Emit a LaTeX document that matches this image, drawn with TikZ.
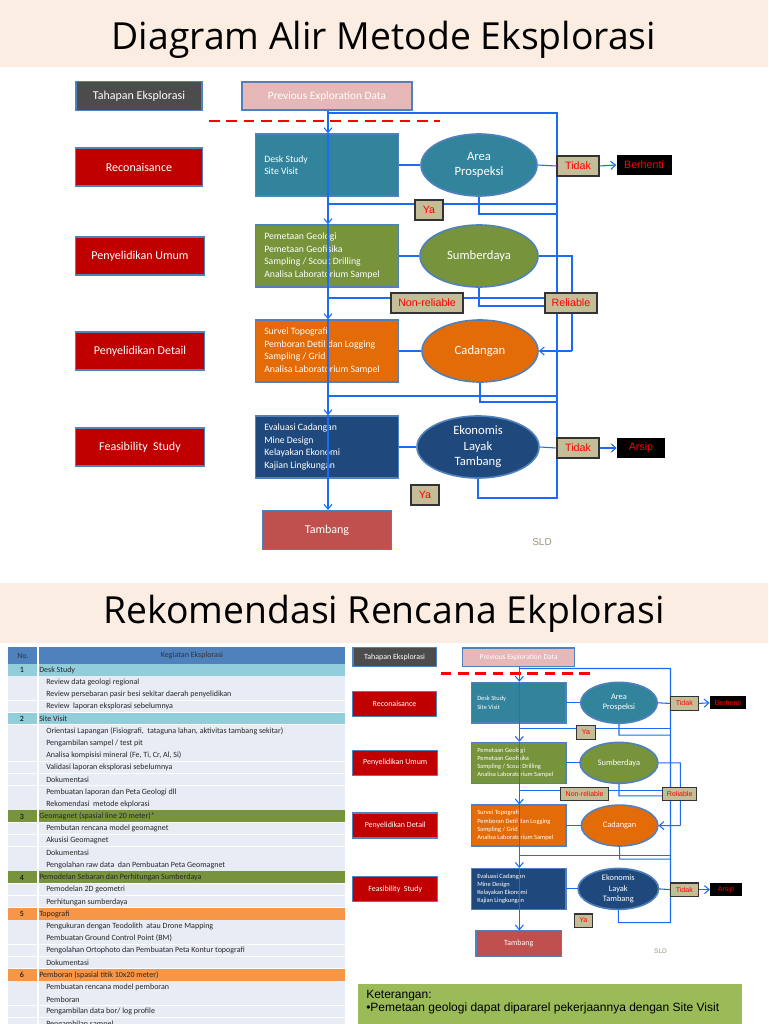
\documentclass[tikz,border=0pt]{standalone}
\usepackage{fontspec}
\setmainfont{Carlito}
\newfontfamily\titlefont{Open Sans}
\newfontfamily\arialf{Liberation Sans}
\usetikzlibrary{arrows.meta,shapes.geometric}
\definecolor{peach}{HTML}{FCEDE3}
\definecolor{teal}{HTML}{31849B}
\definecolor{olive}{HTML}{77933C}
\definecolor{orng}{HTML}{E36C09}
\definecolor{navy}{HTML}{1F497D}
\definecolor{redbox}{HTML}{C00000}
\definecolor{bord}{HTML}{4F81BD}
\definecolor{tan}{HTML}{C4BD97}
\definecolor{pinkb}{HTML}{E6B8B7}
\definecolor{tamb}{HTML}{C0504D}
\definecolor{lnblue}{HTML}{1A6CF5}
\definecolor{hdr}{HTML}{4F81BD}
\definecolor{cyanr}{HTML}{92CDDC}
\definecolor{greenr}{HTML}{77933C}
\definecolor{orr}{HTML}{F79646}
\definecolor{subr}{HTML}{E8ECF4}
\definecolor{ketg}{HTML}{9BBB59}
\tikzset{
 bx/.style 2 args={draw=bord,line width=0.9pt,minimum width=#1*0.75pt,minimum height=#2*0.75pt,inner sep=0pt,text=white},
 stage/.style={bx={127}{38},fill=redbox,font=\fontsize{9}{10}\selectfont},
 work/.style={bx={143}{62},line width=1.2pt},
 btxt/.style={anchor=west,align=left,text=white,font=\fontsize{7.3}{9.4}\selectfont,inner sep=0pt},
 ell/.style={ellipse,draw=bord,line width=1.2pt,minimum width=#1*0.75pt,minimum height=62*0.75pt,inner sep=0pt,text=white,align=center,font=\fontsize{9.5}{11.5}\selectfont},
 tag/.style={draw=black!80,line width=0.8pt,fill=tan,text=red,font=\arialf\fontsize{8}{9}\selectfont,inner sep=0pt,minimum height=20*0.75pt},
 blk/.style={fill=black,text=red,font=\arialf\fontsize{8}{9}\selectfont,inner sep=0pt,minimum height=20*0.75pt},
 ln/.style={draw=lnblue,line width=0.8pt},
 arr/.style={ln,-{Straight Barb[length=3.5pt,width=6pt]}},
 cell/.style={anchor=west,inner sep=0pt,font=\fontsize{6}{7}\selectfont,text=black!85},
}
\newcommand\flowdiag{%
 \node[bx={126}{29},fill=black!70,font=\fontsize{9}{10}\selectfont] (tah) at (139,96) {Tahapan Eksplorasi};
 \node[bx={170}{28},fill=pinkb,font=\fontsize{8.5}{10}\selectfont] (prev) at (327,96) {Previous Exploration Data};
 \draw[red,line width=2pt,dash pattern=on 8pt off 5pt] (209,121) -- (440,121);
 \node[stage] (s1) at (139,167) {Reconaisance};
 \node[stage,bx={129}{38}] (s2) at (140,256) {Penyelidikan Umum};
 \node[stage,bx={129}{38}] (s3) at (140,351) {Penyelidikan Detail};
 \node[stage,bx={129}{38}] (s4) at (140,447) {Feasibility\ \ Study};
 \node[work,fill=teal] (w1) at (327,165) {};
 \node[btxt] at (264,165) {Desk Study\\Site Visit};
 \node[work,fill=olive] (w2) at (327,256) {};
 \node[btxt] at (264,256) {Pemetaan Geologi\\Pemetaan Geofisika\\Sampling / Scout Drilling\\Analisa Laboratorium Sampel};
 \node[work,fill=orng] (w3) at (327,351) {};
 \node[btxt] at (264,351) {Survei Topografi\\Pemboran Detil dan Logging\\Sampling / Grid\\Analisa Laboratorium Sampel};
 \node[work,fill=navy] (w4) at (327,447) {};
 \node[btxt] at (264,447) {Evaluasi Cadangan\\Mine Design\\Kelayakan Ekonomi\\Kajian Lingkungan};
 \node[ell=116,fill=teal] (e1) at (479,165) {Area\\Prospeksi};
 \node[ell=118,fill=olive] (e2) at (479,256) {Sumberdaya};
 \node[ell=116,fill=orng] (e3) at (480,351) {Cadangan};
 \node[ell=122,fill=navy] (e4) at (478,447) {Ekonomis\\Layak\\Tambang};
 \node[bx={129}{39},fill=tamb,font=\fontsize{9}{10}\selectfont] (tb) at (327,530) {Tambang};
 \node[text=tan!80!black,font=\arialf\fontsize{7.5}{8}\selectfont] (sld) at (542,542) {SLD};
 \coordinate (top) at (328,110);
 \draw[arr] (prev.south -| top) -- (w1.north -| top);
 \draw[arr] (w1.north -| top) -- (w2.north -| top);
 \draw[arr] (w2.north -| top) -- (w3.north -| top);
 \draw[arr] (w3.north -| top) -- (w4.north -| top);
 \draw[arr] (w4.north -| top) -- (tb.north -| top);
 \draw[ln] (328,113) -- (557,113) -- (557,498) -- (478,498) -- (e4.south);
 \draw[ln] (w1.east) -- (e1.west);
 \draw[ln] (w2.east) -- (e2.west);
 \draw[ln] (w3.east) -- (e3.west);
 \draw[ln] (w4.east) -- (e4.west);
 \draw[ln] (328,204) -- (557,204);
 \draw[ln] (e1.south) -- (479,214) -- (557,214);
 \draw[ln] (328,298) -- (557,298);
 \draw[ln] (e2.south) -- (479,306) -- (557,306);
 \draw[ln] (328,396) -- (557,396);
 \draw[ln] (e3.south) -- (480,402) -- (557,402);
 \draw[ln] (e2.east) -- (572,256) -- (572,351);
 \draw[arr] (572,351) -- (e3.east);
 \node[tag,minimum width=42*0.75pt] (t1) at (578,166) {Tidak};
 \node[blk,minimum width=55*0.75pt] (b1) at (644,165) {Berhenti};
 \draw[ln] (e1.east) -- (t1.west);
 \draw[arr] (t1.east) -- (b1.west);
 \node[tag,minimum width=28*0.75pt] (y1) at (429,210) {Ya};
 \node[tag,minimum width=72*0.75pt] (nr) at (427,303) {Non-reliable};
 \node[tag,minimum width=52*0.75pt] (rl) at (571,303) {Reliable};
 \node[tag,minimum width=42*0.75pt] (t2) at (578,448) {Tidak};
 \node[blk,minimum width=48*0.75pt] (b2) at (641,448) {Arsip};
 \draw[ln] (e4.east) -- (t2.west);
 \draw[arr] (t2.east) -- (b2.west);
 \node[tag,minimum width=28*0.75pt] (y2) at (425,495) {Ya};
}
\begin{document}
\begin{tikzpicture}[x=0.75pt,y=-0.75pt]
\useasboundingbox (0,0) rectangle (768,1024);
\fill[white] (0,0) rectangle (768,1024);
\fill[peach] (0,0) rectangle (768,67);
\node[font=\titlefont\fontsize{28}{30}\selectfont] (t1title) at (384,40) {Diagram Alir Metode Eksplorasi};
\fill[peach] (0,583) rectangle (768,643);
\node[font=\titlefont\fontsize{28}{30}\selectfont] (t2title) at (384,614) {Rekomendasi Rencana Ekplorasi};
\begin{scope}
\flowdiag
\end{scope}
\begin{scope}[shift={(353,648)},scale=0.66,transform shape,shift={(-76,-82)}]
\flowdiag
\end{scope}
\begin{scope}
\clip (0,640) rectangle (768,1024);
\fill[hdr] (8,647) rectangle (345,664);
\draw[white,line width=1pt] (38,647) -- (38,664);
\node[font=\fontsize{6}{7}\selectfont,text=black!80] (hno) at (23,655.5) {No.};
\node[font=\fontsize{6}{7}\selectfont,text=black!80] (hkg) at (192,655.5) {Kegiatan Eksplorasi};
\foreach [count=\i] \typ/\n/\txt in {
 c/1/{Desk Study}, s//{Review data geologi regional}, s//{Review persebaran pasir besi sekitar daerah penyelidikan}, s//{Review\ \ laporan eksplorasi sebelumnya},
 c/2/{Site Visit}, s//{Orientasi Lapangan (Fisiografi,\ \ tataguna lahan, aktivitas tambang sekitar)}, s//{Pengambilan sampel / test pit}, s//{Analisa kompisisi mineral (Fe, Ti, Cr, Al, Si)}, s//{Validasi laporan eksplorasi sebelumnya}, s//{Dokumentasi}, s//{Pembuatan laporan dan Peta Geologi dll}, s//{Rekomendasi\ \ metode ekplorasi},
 g/3/{Geomagnet (spasial line 20 meter)*}, s//{Pembutan rencana model geomagnet}, s//{Akusisi Geomagnet}, s//{Dokumentasi}, s//{Pengolahan raw data\ \ dan Pembuatan Peta Geomagnet},
 g/4/{Pemodelan Sebaran dan Perhitungan Sumberdaya}, s//{Pemodelan 2D geometri}, s//{Perhitungan sumberdaya},
 o/5/{Topografi}, s//{Pengukuran dengan Teodolith\ \ atau Drone Mapping}, s//{Pembuatan Ground Control Point (BM)}, s//{Pengolahan Ortophoto dan Pembuatan Peta Kontur topografi}, s//{Dokumentasi},
 o/6/{Pemboran (spasial titik 10x20 meter)}, s//{Pembuatan rencana model pemboran}, s//{Pemboran}, s//{Pengambilan data bor/ log profile}, s//{Pengambilan sampel}} {
 \pgfmathsetmacro\ya{664+(\i-1)*12.2}
 \pgfmathsetmacro\yb{\ya+12.2}
 \pgfmathsetmacro\ym{\ya+6.1}
 \if s\typ
   \fill[subr] (8,\ya) rectangle (345,\yb);
   \node[cell] at (46,\ym) {\txt};
 \else
   \if c\typ \fill[cyanr] (8,\ya) rectangle (345,\yb); \fi
   \if g\typ \fill[greenr] (8,\ya) rectangle (345,\yb); \fi
   \if o\typ \fill[orr] (8,\ya) rectangle (345,\yb); \fi
   \node[cell] at (39,\ym) {\txt};
   \node[font=\fontsize{6}{7}\selectfont,inner sep=0pt] at (22,\ym) {\n};
 \fi
 \draw[white,line width=0.8pt] (8,\yb) -- (345,\yb);
 \draw[white,line width=1pt] (38,\ya) -- (38,\yb);
}
\fill[ketg] (358,984) rectangle (742,1024);
\node[anchor=north west,align=left,inner sep=0pt,font=\arialf\fontsize{9}{10}\selectfont] (ket) at (366,990) {Keterangan:\\\textbullet Pemetaan geologi dapat dipararel pekerjaannya dengan Site Visit};
\end{scope}
\end{tikzpicture}
\end{document}
